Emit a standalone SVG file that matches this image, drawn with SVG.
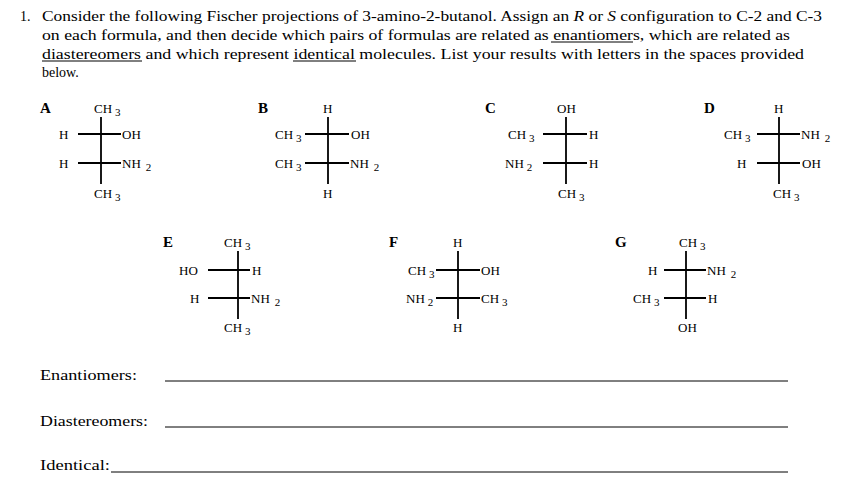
<svg xmlns="http://www.w3.org/2000/svg" width="867" height="486" viewBox="0 0 867 486">
<style>
text{font-family:"Liberation Serif",serif;fill:#000}
.p{font-size:14px}
.l{font-size:13px}
.s{font-size:11px}
.b{font-size:15px;font-weight:bold}
.c line{stroke:#000;stroke-width:1.8}
.u{stroke:#000;stroke-width:1}
</style>
<rect width="867" height="486" fill="#fff"/>
<g id="question" class="p">
<text x="20" y="21">1.</text>
<text x="42" y="21" textLength="780" lengthAdjust="spacingAndGlyphs">Consider the following Fischer projections of 3-amino-2-butanol.  Assign an <tspan font-style="italic">R</tspan> or <tspan font-style="italic">S</tspan> configuration to C-2 and C-3</text>
<text x="42" y="40" textLength="748" lengthAdjust="spacingAndGlyphs">on each formula, and then decide which pairs of formulas are related as enantiomers, which are related as</text>
<text x="42" y="59" textLength="762" lengthAdjust="spacingAndGlyphs">diastereomers and which represent identical molecules.  List your results with letters in the spaces provided</text>
<text x="42" y="77">below.</text>
<line class="u" x1="551" y1="42" x2="633" y2="42"/>
<line class="u" x1="42" y1="61" x2="142" y2="61"/>
<line class="u" x1="293" y1="61" x2="356" y2="61"/>
</g>
<g id="A">
<text class="b" x="40" y="113">A</text>
<g class="c"><line x1="101" y1="117" x2="101" y2="184"/><line x1="78" y1="134" x2="121" y2="134"/><line x1="78" y1="163" x2="121" y2="163"/></g>
<text class="l" x="94" y="113">CH<tspan class="s" dx="3" dy="3">3</tspan></text>
<text class="l" x="59" y="139">H</text><text class="l" x="122" y="139">OH</text>
<text class="l" x="59" y="168">H</text><text class="l" x="122" y="168">NH<tspan class="s" dx="5" dy="3">2</tspan></text>
<text class="l" x="94" y="198">CH<tspan class="s" dx="3" dy="3">3</tspan></text>
</g>
<g id="B">
<text class="b" x="258" y="113">B</text>
<g class="c"><line x1="328" y1="117" x2="328" y2="184"/><line x1="305" y1="134" x2="349" y2="134"/><line x1="305" y1="163" x2="349" y2="163"/></g>
<text class="l" x="323" y="113">H</text>
<text class="l" x="275" y="139">CH<tspan class="s" dx="3" dy="3">3</tspan></text><text class="l" x="351" y="139">OH</text>
<text class="l" x="275" y="168">CH<tspan class="s" dx="3" dy="3">3</tspan></text><text class="l" x="350" y="168">NH<tspan class="s" dx="5" dy="3">2</tspan></text>
<text class="l" x="323" y="198">H</text>
</g>
<g id="C">
<text class="b" x="485" y="113">C</text>
<g class="c"><line x1="566" y1="117" x2="566" y2="184"/><line x1="543" y1="134" x2="587" y2="134"/><line x1="543" y1="163" x2="587" y2="163"/></g>
<text class="l" x="557" y="113">OH</text>
<text class="l" x="508" y="139">CH<tspan class="s" dx="3" dy="3">3</tspan></text><text class="l" x="589" y="139">H</text>
<text class="l" x="505" y="168">NH<tspan class="s" dx="3" dy="3">2</tspan></text><text class="l" x="589" y="168">H</text>
<text class="l" x="558" y="198">CH<tspan class="s" dx="3" dy="3">3</tspan></text>
</g>
<g id="D">
<text class="b" x="704" y="113">D</text>
<g class="c"><line x1="779" y1="117" x2="779" y2="184"/><line x1="757" y1="134" x2="800" y2="134"/><line x1="757" y1="163" x2="800" y2="163"/></g>
<text class="l" x="774" y="113">H</text>
<text class="l" x="724" y="139">CH<tspan class="s" dx="3" dy="3">3</tspan></text><text class="l" x="801" y="139">NH<tspan class="s" dx="5" dy="3">2</tspan></text>
<text class="l" x="737" y="168">H</text><text class="l" x="802" y="168">OH</text>
<text class="l" x="773" y="198">CH<tspan class="s" dx="3" dy="3">3</tspan></text>
</g>
<g id="E">
<text class="b" x="163" y="247">E</text>
<g class="c"><line x1="238" y1="251" x2="238" y2="319"/><line x1="208" y1="270" x2="250" y2="270"/><line x1="208" y1="298" x2="250" y2="298"/></g>
<text class="l" x="224" y="247">CH<tspan class="s" dx="3" dy="3">3</tspan></text>
<text class="l" x="179" y="275">HO</text><text class="l" x="252" y="275">H</text>
<text class="l" x="190" y="303">H</text><text class="l" x="251" y="303">NH<tspan class="s" dx="5" dy="3">2</tspan></text>
<text class="l" x="224" y="332">CH<tspan class="s" dx="3" dy="3">3</tspan></text>
</g>
<g id="F">
<text class="b" x="389" y="247">F</text>
<g class="c"><line x1="458" y1="251" x2="458" y2="319"/><line x1="436" y1="270" x2="480" y2="270"/><line x1="436" y1="298" x2="480" y2="298"/></g>
<text class="l" x="453" y="247">H</text>
<text class="l" x="408" y="275">CH<tspan class="s" dx="3" dy="3">3</tspan></text><text class="l" x="481" y="275">OH</text>
<text class="l" x="406" y="303">NH<tspan class="s" dx="3" dy="3">2</tspan></text><text class="l" x="481" y="303">CH<tspan class="s" dx="3" dy="3">3</tspan></text>
<text class="l" x="453" y="332">H</text>
</g>
<g id="G">
<text class="b" x="615" y="247">G</text>
<g class="c"><line x1="686" y1="251" x2="686" y2="319"/><line x1="664" y1="270" x2="706" y2="270"/><line x1="664" y1="298" x2="706" y2="298"/></g>
<text class="l" x="679" y="247">CH<tspan class="s" dx="3" dy="3">3</tspan></text>
<text class="l" x="648" y="275">H</text><text class="l" x="707" y="275">NH<tspan class="s" dx="5" dy="3">2</tspan></text>
<text class="l" x="633" y="303">CH<tspan class="s" dx="3" dy="3">3</tspan></text><text class="l" x="708" y="303">H</text>
<text class="l" x="678" y="332">OH</text>
</g>
<g id="answers" class="p">
<text x="40" y="380" textLength="97" lengthAdjust="spacingAndGlyphs">Enantiomers:</text>
<line class="u" x1="165" y1="381" x2="788" y2="381"/>
<text x="40" y="426" textLength="108" lengthAdjust="spacingAndGlyphs">Diastereomers:</text>
<line class="u" x1="165" y1="427" x2="788" y2="427"/>
<text x="40" y="470" textLength="70" lengthAdjust="spacingAndGlyphs">Identical:</text>
<line class="u" x1="111" y1="472" x2="788" y2="472"/>
</g>
</svg>
